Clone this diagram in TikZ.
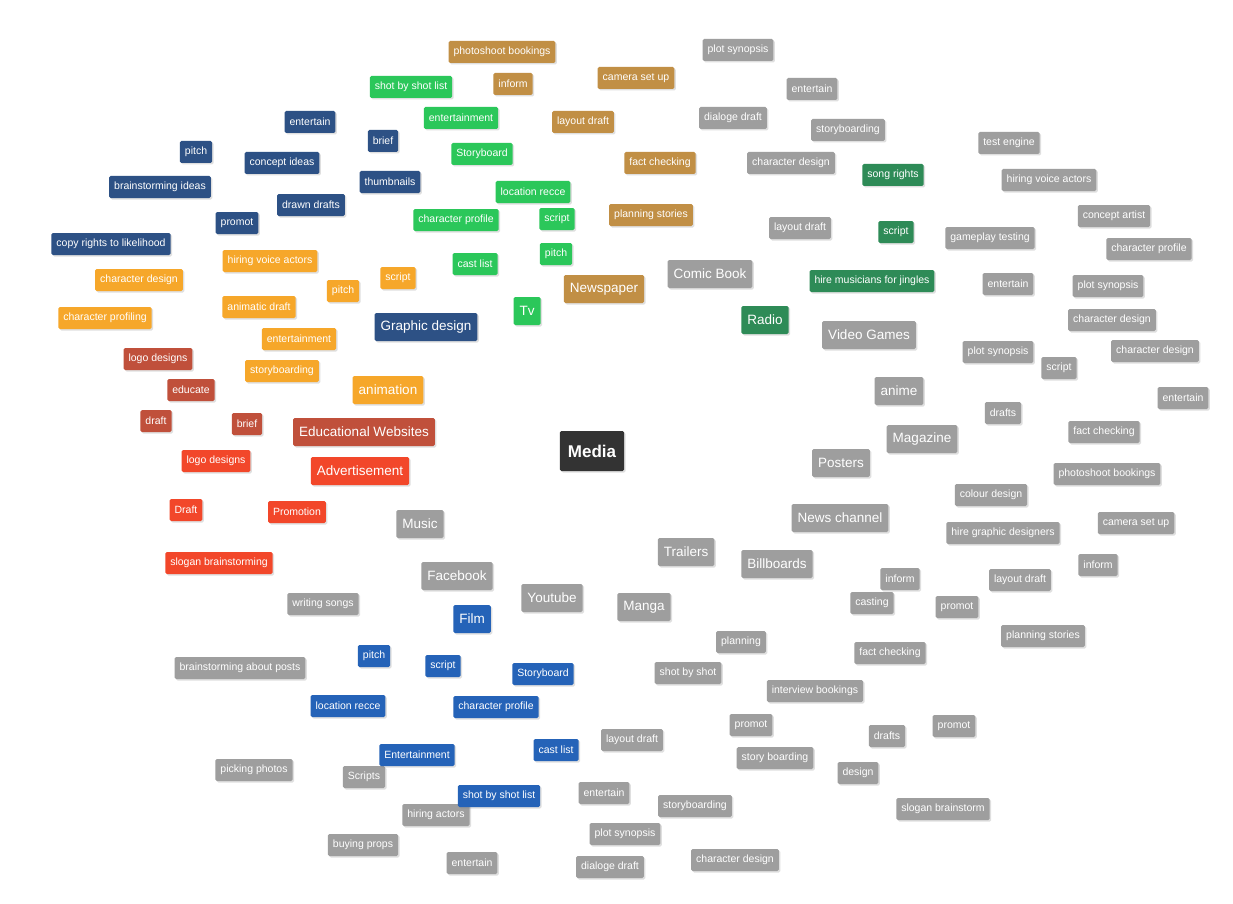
\documentclass[tikz,border=0pt]{standalone}
\usepackage{fontspec}
\setmainfont{Liberation Sans}
\usetikzlibrary{backgrounds,shadows}
\definecolor{cg}{HTML}{9E9E9E}
\definecolor{cdb}{HTML}{2D5185}
\definecolor{cgr}{HTML}{2BC75A}
\definecolor{ctan}{HTML}{C18F45}
\definecolor{cdg}{HTML}{2E8B57}
\definecolor{cbl}{HTML}{2563B8}
\definecolor{crd}{HTML}{F2472A}
\definecolor{cbr}{HTML}{C0503B}
\definecolor{cor}{HTML}{F6A72A}
\definecolor{cmed}{HTML}{333333}
\definecolor{ced}{HTML}{C8C8C8}
\tikzset{
 leaf/.style={rounded corners=1.5pt,text=white,font=\fontsize{10.5}{12}\selectfont,inner xsep=5pt,inner ysep=4pt,minimum height=22pt,drop shadow={opacity=0.25,shadow xshift=1.5pt,shadow yshift=-1.5pt}},
 hub/.style={leaf,font=\fontsize{13.5}{15}\selectfont,minimum height=28pt,inner xsep=6pt},
 edge/.style={draw=ced,line width=0.9pt}
}
\newcommand\lf[5]{\node[leaf,fill=#1] (#2) at (#3) {#4};
 \begin{scope}[on background layer]\draw[edge] (#5) -- (#2);\end{scope}}
\newcommand\hb[4]{\node[hub,fill=#1] (#2) at (#3) {#4};
 \begin{scope}[on background layer]\draw[edge] (media) -- (#2);\end{scope}}
\begin{document}
\begin{tikzpicture}[x=1pt,y=-1pt]
\useasboundingbox[fill=white] (0,0) rectangle (1233,904);
\node[hub,fill=cmed,font=\fontsize{17}{19}\selectfont\bfseries,minimum height=40pt,inner xsep=8pt] (media) at (592,451) {Media};
\hb{cdb}{gd}{426,327}{Graphic design}
\hb{cgr}{tv}{527,311}{Tv}
\hb{ctan}{np}{604,289}{Newspaper}
\hb{cg}{cb}{710,274}{Comic Book}
\hb{cdg}{rad}{765,320}{Radio}
\hb{cg}{vg}{869,335}{Video Games}
\hb{cg}{an}{899,391}{anime}
\hb{cg}{mag}{922,439}{Magazine}
\hb{cg}{pos}{841,463}{Posters}
\hb{cg}{nc}{840,518}{News channel}
\hb{cg}{bb}{777,564}{Billboards}
\hb{cg}{tr}{686,552}{Trailers}
\hb{cg}{mg}{644,607}{Manga}
\hb{cg}{yt}{552,598}{Youtube}
\hb{cbl}{film}{472,619}{Film}
\hb{cg}{fb}{457,576}{Facebook}
\hb{cg}{mus}{420,524}{Music}
\hb{crd}{adv}{360,471}{Advertisement}
\hb{cbr}{edu}{364,432}{Educational Websites}
\hb{cor}{ani}{388,390}{animation}
% graphic design
\lf{cdb}{a1}{310,122}{entertain}{gd}
\lf{cdb}{a2}{383,141}{brief}{gd}
\lf{cdb}{a3}{196,152}{pitch}{gd}
\lf{cdb}{a4}{282,163}{concept ideas}{gd}
\lf{cdb}{a5}{160,187}{brainstorming ideas}{gd}
\lf{cdb}{a6}{390,182}{thumbnails}{gd}
\lf{cdb}{a7}{311,205}{drawn drafts}{gd}
\lf{cdb}{a8}{237,223}{promot}{gd}
\lf{cdb}{a9}{111,244}{copy rights to likelihood}{gd}
% tv
\lf{cgr}{b1}{411,87}{shot by shot list}{tv}
\lf{cgr}{b2}{461,118}{entertainment}{tv}
\lf{cgr}{b3}{482,154}{Storyboard}{tv}
\lf{cgr}{b4}{533,192}{location recce}{tv}
\lf{cgr}{b5}{456,220}{character profile}{tv}
\lf{cgr}{b6}{557,219}{script}{tv}
\lf{cgr}{b7}{475,264}{cast list}{tv}
\lf{cgr}{b8}{556,254}{pitch}{tv}
% newspaper
\lf{ctan}{c1}{502,52}{photoshoot bookings}{np}
\lf{ctan}{c2}{513,84}{inform}{np}
\lf{ctan}{c3}{636,78}{camera set up}{np}
\lf{ctan}{c4}{583,122}{layout draft}{np}
\lf{ctan}{c5}{660,163}{fact checking}{np}
\lf{ctan}{c6}{651,215}{planning stories}{np}
% comic book
\lf{cg}{d1}{738,50}{plot synopsis}{cb}
\lf{cg}{d2}{812,89}{entertain}{cb}
\lf{cg}{d3}{733,118}{dialoge draft}{cb}
\lf{cg}{d4}{848,130}{storyboarding}{cb}
\lf{cg}{d5}{791,163}{character design}{cb}
\lf{cg}{d6}{800,228}{layout draft}{cb}
% radio
\lf{cdg}{e1}{893,175}{song rights}{rad}
\lf{cdg}{e2}{896,232}{script}{rad}
\lf{cdg}{e3}{872,281}{hire musicians for jingles}{rad}
% video games
\lf{cg}{f1}{1009,143}{test engine}{vg}
\lf{cg}{f2}{1049,180}{hiring voice actors}{vg}
\lf{cg}{f3}{1114,216}{concept artist}{vg}
\lf{cg}{f4}{990,238}{gameplay testing}{vg}
\lf{cg}{f5}{1149,249}{character profile}{vg}
\lf{cg}{f6}{1008,284}{entertain}{vg}
\lf{cg}{f7}{1108,286}{plot synopsis}{vg}
% anime
\lf{cg}{g1}{1112,320}{character design}{an}
\lf{cg}{g2}{998,352}{plot synopsis}{an}
\lf{cg}{g3}{1155,351}{character design}{an}
\lf{cg}{g4}{1059,368}{script}{an}
\lf{cg}{g5}{1183,398}{entertain}{an}
% magazine
\lf{cg}{h1}{1003,413}{drafts}{mag}
\lf{cg}{h2}{1104,432}{fact checking}{mag}
\lf{cg}{h3}{1107,474}{photoshoot bookings}{mag}
\lf{cg}{h4}{991,495}{colour design}{mag}
\lf{cg}{h5}{1003,533}{hire graphic designers}{mag}
\lf{cg}{h6}{1136,523}{camera set up}{mag}
\lf{cg}{h7}{1098,565}{inform}{mag}
% news channel
\lf{cg}{i1}{900,579}{inform}{nc}
\lf{cg}{i2}{872,603}{casting}{nc}
\lf{cg}{i3}{957,607}{promot}{nc}
\lf{cg}{i4}{1020,580}{layout draft}{nc}
\lf{cg}{i5}{1043,636}{planning stories}{nc}
\lf{cg}{i6}{890,653}{fact checking}{nc}
% billboards
\lf{cg}{j1}{815,691}{interview bookings}{bb}
\lf{cg}{j2}{887,736}{drafts}{bb}
\lf{cg}{j3}{954,726}{promot}{bb}
\lf{cg}{j4}{858,773}{design}{bb}
\lf{cg}{j5}{943,809}{slogan brainstorm}{bb}
% trailers
\lf{cg}{k1}{741,642}{planning}{tr}
\lf{cg}{k2}{688,673}{shot by shot}{tr}
\lf{cg}{k3}{751,725}{promot}{tr}
\lf{cg}{k4}{775,758}{story boarding}{tr}
% manga
\lf{cg}{m1}{632,740}{layout draft}{mg}
\lf{cg}{m2}{604,793}{entertain}{mg}
\lf{cg}{m3}{695,806}{storyboarding}{mg}
\lf{cg}{m4}{625,834}{plot synopsis}{mg}
\lf{cg}{m5}{610,867}{dialoge draft}{mg}
\lf{cg}{m6}{735,860}{character design}{mg}
% youtube
\lf{cg}{n1}{364,777}{Scripts}{yt}
\lf{cg}{n2}{436,815}{hiring actors}{yt}
\lf{cg}{n3}{363,845}{buying props}{yt}
\lf{cg}{n4}{472,863}{entertain}{yt}
% facebook / music
\lf{cg}{o1}{240,668}{brainstorming about posts}{fb}
\lf{cg}{o2}{254,770}{picking photos}{fb}
\lf{cg}{o3}{323,604}{writing songs}{mus}
% film
\lf{cbl}{p1}{374,656}{pitch}{film}
\lf{cbl}{p2}{443,666}{script}{film}
\lf{cbl}{p3}{543,674}{Storyboard}{film}
\lf{cbl}{p4}{348,706}{location recce}{film}
\lf{cbl}{p5}{496,707}{character profile}{film}
\lf{cbl}{p6}{556,750}{cast list}{film}
\lf{cbl}{p7}{417,755}{Entertainment}{film}
\lf{cbl}{p8}{499,796}{shot by shot list}{film}
% advertisement
\lf{crd}{q1}{216,461}{logo designs}{adv}
\lf{crd}{q2}{186,510}{Draft}{adv}
\lf{crd}{q3}{297,512}{Promotion}{adv}
\lf{crd}{q4}{219,563}{slogan brainstorming}{adv}
% educational
\lf{cbr}{r1}{158,359}{logo designs}{edu}
\lf{cbr}{r2}{191,390}{educate}{edu}
\lf{cbr}{r3}{156,421}{draft}{edu}
\lf{cbr}{r4}{247,424}{brief}{edu}
% animation
\lf{cor}{s1}{270,261}{hiring voice actors}{ani}
\lf{cor}{s2}{139,280}{character design}{ani}
\lf{cor}{s3}{398,278}{script}{ani}
\lf{cor}{s4}{343,291}{pitch}{ani}
\lf{cor}{s5}{259,307}{animatic draft}{ani}
\lf{cor}{s6}{105,318}{character profiling}{ani}
\lf{cor}{s7}{299,339}{entertainment}{ani}
\lf{cor}{s8}{282,371}{storyboarding}{ani}
\end{tikzpicture}
\end{document}
